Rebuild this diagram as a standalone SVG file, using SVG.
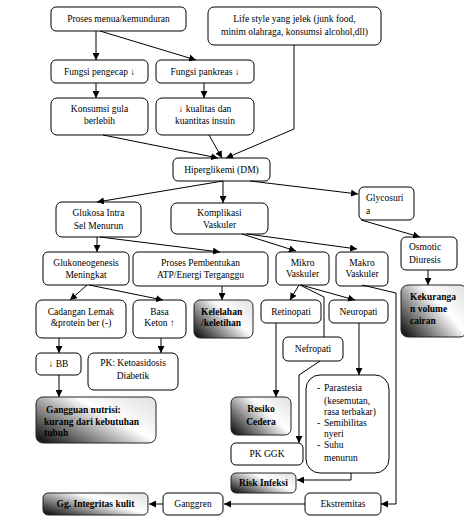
<svg xmlns="http://www.w3.org/2000/svg" width="464" height="529" viewBox="0 0 464 529">
<defs>
<marker id="ah" viewBox="0 0 8 8" refX="8" refY="4" markerWidth="7" markerHeight="7" markerUnits="userSpaceOnUse" orient="auto">
<path d="M0,0 L8,4 L0,8 z" fill="#000"/>
</marker>
<linearGradient id="g" x1="0" y1="0.85" x2="1" y2="0.15">
<stop offset="0" stop-color="#1c1c1c"/>
<stop offset="0.62" stop-color="#ffffff"/>
<stop offset="1" stop-color="#e4e4e4"/>
</linearGradient>
</defs>
<style>
rect.b{fill:#fff;stroke:#000;stroke-width:1}
rect.d{fill:url(#g);stroke:#222;stroke-width:1}
text{font-family:"Liberation Serif","Times New Roman",serif;font-size:9.5px;fill:#000}
text.c{text-anchor:middle}
text.k{font-weight:bold}
.cn path,.cn line,.cn polyline{fill:none;stroke:#000;stroke-width:1}
</style>
<rect width="464" height="529" fill="#fff"/>

<g id="n-proses-menua"><rect class="b" x="51" y="7" width="135" height="24" rx="5"/><text class="c" x="118.5" y="22">Proses menua/kemunduran</text></g>
<g id="n-lifestyle"><rect class="b" x="208" y="7" width="173" height="38" rx="6"/><text class="c" x="294.5" y="22">Life style yang jelek (junk food,</text><text class="c" x="294.5" y="35">minim olahraga, konsumsi alcohol,dll)</text></g>
<g id="n-pengecap"><rect class="b" x="51" y="60" width="97" height="23" rx="5"/><text class="c" x="99.5" y="75">Fungsi pengecap ↓</text></g>
<g id="n-pankreas"><rect class="b" x="156" y="60" width="98" height="23" rx="5"/><text class="c" x="205" y="75">Fungsi pankreas ↓</text></g>
<g id="n-konsumsi"><rect class="b" x="51" y="98" width="97" height="37" rx="6"/><text class="c" x="99.5" y="112">Konsumsi gula</text><text class="c" x="99.5" y="124">berlebih</text></g>
<g id="n-kualitas"><rect class="b" x="156" y="98" width="98" height="37" rx="6"/><text class="c" x="205" y="112">↓ kualitas dan</text><text class="c" x="205" y="124">kuantitas insuin</text></g>
<g id="n-hiperglikemi"><rect class="b" x="173" y="158" width="97" height="23" rx="5"/><text class="c" x="221.5" y="173">Hiperglikemi (DM)</text></g>
<g id="n-glukosa"><rect class="b" x="56" y="202" width="85" height="35" rx="6"/><text class="c" x="98.5" y="216">Glukosa Intra</text><text class="c" x="98.5" y="229">Sel Menurun</text></g>
<g id="n-komplikasi"><rect class="b" x="171" y="203" width="97" height="31" rx="6"/><text class="c" x="219.5" y="216">Komplikasi</text><text class="c" x="219.5" y="228">Vaskuler</text></g>
<g id="n-glycosuria"><rect class="b" x="359" y="187" width="55" height="33" rx="5"/><text x="366" y="201">Glycosuri</text><text x="366" y="214">a</text></g>
<g id="n-osmotic"><rect class="b" x="401" y="237" width="56" height="33" rx="5"/><text x="409" y="250">Osmotic</text><text x="409" y="263">Diuresis</text></g>
<g id="n-kekurangan"><rect class="d" x="401" y="285" width="66" height="52" rx="7"/><text class="k" x="410" y="300">Kekuranga</text><text class="k" x="410" y="312">n volume</text><text class="k" x="410" y="324">cairan</text></g>
<g id="n-glukoneogenesis"><rect class="b" x="43" y="252" width="86" height="33" rx="5"/><text class="c" x="86" y="266">Glukoneogenesis</text><text class="c" x="86" y="278">Meningkat</text></g>
<g id="n-atp"><rect class="b" x="133" y="252" width="135" height="34" rx="5"/><text class="c" x="200.5" y="266">Proses Pembentukan</text><text class="c" x="200.5" y="278">ATP/Energi Terganggu</text></g>
<g id="n-mikro"><rect class="b" x="276" y="252" width="53" height="33" rx="5"/><text class="c" x="302.5" y="266">Mikro</text><text class="c" x="302.5" y="277">Vaskuler</text></g>
<g id="n-makro"><rect class="b" x="336" y="252" width="52" height="34" rx="5"/><text class="c" x="362" y="266">Makro</text><text class="c" x="362" y="277">Vaskuler</text></g>
<g id="n-cadangan"><rect class="b" x="36" y="300" width="90" height="38" rx="6"/><text class="c" x="81" y="315">Cadangan Lemak</text><text class="c" x="81" y="326">&amp;protein ber (-)</text></g>
<g id="n-keton"><rect class="b" x="133" y="300" width="53" height="38" rx="6"/><text class="c" x="159.5" y="315">Basa</text><text class="c" x="159.5" y="326">Keton ↑</text></g>
<g id="n-kelelahan"><rect class="d" x="194" y="300" width="59" height="38" rx="6"/><text class="k" x="201" y="315">Kelelahan</text><text class="k" x="201" y="326">/keletihan</text></g>
<g id="n-retinopati"><rect class="b" x="261" y="300" width="60" height="23" rx="5"/><text class="c" x="291" y="315">Retinopati</text></g>
<g id="n-neuropati"><rect class="b" x="329" y="300" width="59" height="23" rx="5"/><text class="c" x="358.5" y="315">Neuropati</text></g>
<g id="n-nefropati"><rect class="b" x="283" y="337" width="60" height="24" rx="5"/><text class="c" x="313" y="352">Nefropati</text></g>
<g id="n-bb"><rect class="b" x="36" y="353" width="45" height="22" rx="5"/><text class="c" x="58.5" y="367">↓ BB</text></g>
<g id="n-ketoasidosis"><rect class="b" x="88" y="353" width="90" height="37" rx="6"/><text class="c" x="133" y="366">PK: Ketoasidosis</text><text class="c" x="133" y="379">Diabetik</text></g>
<g id="n-nutrisi"><rect class="d" x="36" y="397" width="120" height="46" rx="7"/><text class="k" x="46" y="413">Gangguan nutrisi:</text><text class="k" x="44" y="425">kurang dari kebutuhan</text><text class="k" x="44" y="436">tubuh</text></g>
<g id="n-resiko"><rect class="d" x="231" y="397" width="60" height="38" rx="6"/><text class="c k" x="261" y="412">Resiko</text><text class="c k" x="261" y="425">Cedera</text></g>
<g id="n-parastesia"><rect class="b" x="306" y="375" width="83" height="98" rx="14"/>
<text x="317" y="391">-</text><text x="324" y="391">Parastesia</text>
<text x="324" y="404">(kesemutan,</text>
<text x="324" y="415">rasa terbakar)</text>
<text x="317" y="426">-</text><text x="324" y="426">Semibilitas</text>
<text x="324" y="437">nyeri</text>
<text x="317" y="448">-</text><text x="324" y="448">Suhu</text>
<text x="324" y="461">menurun</text></g>
<g id="n-pkggk"><rect class="b" x="231" y="443" width="72" height="22" rx="5"/><text class="c" x="267" y="457">PK GGK</text></g>
<g id="n-risk"><rect class="d" x="231" y="473" width="65" height="20" rx="5"/><text class="c k" x="263.5" y="486">Risk Infeksi</text></g>
<g id="n-integritas"><rect class="d" x="43" y="493" width="105" height="22" rx="5"/><text class="c k" x="95.5" y="507">Gg. Integritas kulit</text></g>
<g id="n-ganggren"><rect class="b" x="163" y="493" width="60" height="22" rx="5"/><text class="c" x="193" y="507">Ganggren</text></g>
<g id="n-ekstremitas"><rect class="b" x="305" y="493" width="76" height="22" rx="5"/><text class="c" x="343" y="507">Ekstremitas</text></g>

<g id="connectors" class="cn">
<line x1="96" y1="31" x2="96" y2="60" marker-end="url(#ah)"/>
<line x1="100" y1="31" x2="196" y2="60" marker-end="url(#ah)"/>
<line x1="96" y1="83" x2="96" y2="98" marker-end="url(#ah)"/>
<line x1="204" y1="83" x2="204" y2="98" marker-end="url(#ah)"/>
<line x1="103" y1="135" x2="218" y2="158" marker-end="url(#ah)"/>
<line x1="209" y1="135" x2="222" y2="158" marker-end="url(#ah)"/>
<polyline points="294,45 294,129 226,158" marker-end="url(#ah)"/>
<line x1="223" y1="181" x2="97" y2="202" marker-end="url(#ah)"/>
<line x1="223" y1="181" x2="223" y2="203" marker-end="url(#ah)"/>
<line x1="250" y1="181" x2="358" y2="194" marker-end="url(#ah)"/>
<line x1="361" y1="220" x2="420" y2="237" marker-end="url(#ah)"/>
<line x1="428" y1="270" x2="428" y2="285" marker-end="url(#ah)"/>
<line x1="97" y1="237" x2="97" y2="252" marker-end="url(#ah)"/>
<line x1="100" y1="237" x2="220" y2="252" marker-end="url(#ah)"/>
<line x1="242" y1="234" x2="296" y2="251" marker-end="url(#ah)"/>
<line x1="247" y1="234" x2="357" y2="249" marker-end="url(#ah)"/>
<line x1="87" y1="285" x2="70" y2="300" marker-end="url(#ah)"/>
<line x1="89" y1="285" x2="163" y2="300" marker-end="url(#ah)"/>
<line x1="222" y1="286" x2="222" y2="300" marker-end="url(#ah)"/>
<line x1="299" y1="285" x2="290" y2="300" marker-end="url(#ah)"/>
<line x1="301" y1="285" x2="355" y2="300" marker-end="url(#ah)"/>
<polyline points="300,285 324,297 324,337"/>
<line x1="59" y1="338" x2="59" y2="353" marker-end="url(#ah)"/>
<line x1="161" y1="338" x2="161" y2="353" marker-end="url(#ah)"/>
<line x1="59" y1="375" x2="59" y2="397" marker-end="url(#ah)"/>
<line x1="276" y1="323" x2="276" y2="397" marker-end="url(#ah)"/>
<line x1="359" y1="323" x2="359" y2="375" marker-end="url(#ah)"/>
<polyline points="320,361 299,375 299,443" marker-end="url(#ah)"/>
<polyline points="351,473 351,480 297,480" marker-end="url(#ah)"/>
<polyline points="362,285 396,293 396,504 381,504" marker-end="url(#ah)"/>
<line x1="305" y1="504" x2="224" y2="504" marker-end="url(#ah)"/>
<line x1="163" y1="504" x2="149" y2="504" marker-end="url(#ah)"/>
</g>
</svg>
